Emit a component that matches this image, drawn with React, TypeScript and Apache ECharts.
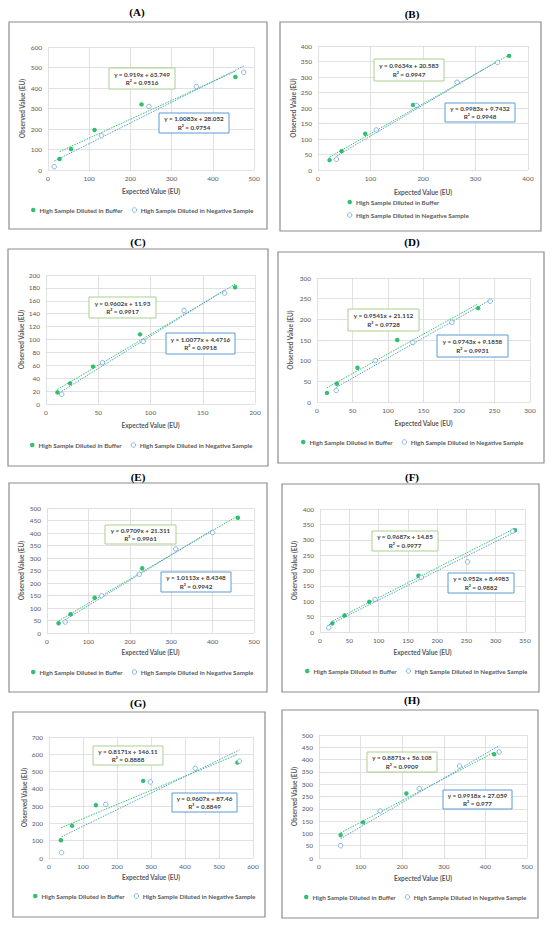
import React, { useEffect, useRef } from "react";
import * as echarts from "echarts";

const BUFFER_NAME = "High Sample Diluted in Buffer";
const NEGATIVE_NAME = "High Sample Diluted in Negative Sample";
const X_TITLE = "Expected Value (EU)";
const Y_TITLE = "Observed Value (EU)";
const panelLabels = ["(A)", "(B)", "(C)", "(D)", "(E)", "(F)", "(G)", "(H)"];

// ---- Panel A ----
const bufferA = [[28, 54], [56, 102], [113, 195], [227, 320], [455, 454]];
const negativeA = [[15, 16], [130, 167], [245, 310], [360, 407], [475, 477]];
const xTicksA = [0, 500, 100];
const yTicksA = [0, 600, 100];
const fitBufferA = [0.919, 63.749];
const fitNegativeA = [1.0083, 28.052];
const eqBufferA = ["y = 0.919x + 63.749", "R² = 0.9516"];
const eqNegativeA = ["y = 1.0083x + 28.052", "R² = 0.9754"];

// ---- Panel B ----
const bufferB = [[22, 32], [45, 61], [90, 117], [181, 210], [364, 368]];
const negativeB = [[35, 35], [111, 129], [188, 208], [265, 283], [342, 347]];
const xTicksB = [0, 400, 100];
const yTicksB = [0, 400, 50];
const fitBufferB = [0.9634, 20.583];
const fitNegativeB = [0.9983, 9.7432];
const eqBufferB = ["y = 0.9634x + 20.583", "R² = 0.9947"];
const eqNegativeB = ["y = 0.9983x + 9.7432", "R² = 0.9948"];

// ---- Panel C ----
const bufferC = [[11, 18], [23, 32], [45, 58], [90, 108], [181, 181]];
const negativeC = [[15, 15], [54, 64], [93, 97], [132, 145], [171, 172]];
const xTicksC = [0, 200, 50];
const yTicksC = [0, 200, 20];
const fitBufferC = [0.9602, 11.93];
const fitNegativeC = [1.0077, 4.4716];
const eqBufferC = ["y = 0.9602x + 11.93", "R² = 0.9917"];
const eqNegativeC = ["y = 1.0077x + 4.4716", "R² = 0.9918"];

// ---- Panel D ----
const bufferD = [[14, 22], [28, 44], [57, 83], [113, 150], [227, 227]];
const negativeD = [[27, 28], [82, 100], [135, 144], [190, 193], [244, 244]];
const xTicksD = [0, 300, 50];
const yTicksD = [0, 300, 50];
const fitBufferD = [0.9541, 21.112];
const fitNegativeD = [0.9743, 9.1858];
const eqBufferD = ["y = 0.9541x + 21.112", "R² = 0.9728"];
const eqNegativeD = ["y = 0.9743x + 9.1858", "R² = 0.9931"];

// ---- Panel E ----
const bufferE = [[28, 39], [57, 75], [115, 141], [230, 259], [461, 461]];
const negativeE = [[44, 44], [132, 149], [223, 235], [311, 336], [400, 402]];
const xTicksE = [0, 500, 100];
const yTicksE = [0, 500, 50];
const fitBufferE = [0.9709, 21.311];
const fitNegativeE = [1.0113, 8.4348];
const eqBufferE = ["y = 0.9709x + 21.311", "R² = 0.9961"];
const eqNegativeE = ["y = 1.0113x + 8.4348", "R² = 0.9942"];

// ---- Panel F ----
const bufferF = [[21, 28], [42, 54], [84, 98], [168, 183], [333, 331]];
const negativeF = [[15, 14], [94, 106], [173, 178], [252, 228], [329, 328]];
const xTicksF = [0, 350, 50];
const yTicksF = [0, 400, 50];
const fitBufferF = [0.9687, 14.85];
const fitNegativeF = [0.952, 8.4983];
const eqBufferF = ["y = 0.9687x + 14.85", "R² = 0.9977"];
const eqNegativeF = ["y = 0.952x + 8.4983", "R² = 0.9882"];

// ---- Panel G ----
const bufferG = [[35, 103], [68, 186], [138, 306], [277, 446], [554, 552]];
const negativeG = [[37, 31], [167, 310], [298, 440], [430, 519], [560, 560]];
const xTicksG = [0, 600, 100];
const yTicksG = [0, 700, 100];
const fitBufferG = [0.8171, 146.11];
const fitNegativeG = [0.9607, 87.46];
const eqBufferG = ["y = 0.8171x + 146.11", "R² = 0.8888"];
const eqNegativeG = ["y = 0.9607x + 87.46", "R² = 0.8849"];

// ---- Panel H ----
const bufferH = [[52, 93], [106, 145], [210, 262], [421, 422]];
const negativeH = [[52, 50], [147, 191], [241, 282], [338, 374], [433, 431]];
const xTicksH = [0, 500, 100];
const yTicksH = [0, 500, 50];
const fitBufferH = [0.8871, 56.108];
const fitNegativeH = [0.9918, 27.059];
const eqBufferH = ["y = 0.8871x + 56.108", "R² = 0.9909"];
const eqNegativeH = ["y = 0.9918x + 27.059", "R² = 0.977"];

const panelData = [
  { buffer: bufferA, negative: negativeA, xTicks: xTicksA, yTicks: yTicksA, fitB: fitBufferA, fitN: fitNegativeA, eqB: eqBufferA, eqN: eqNegativeA },
  { buffer: bufferB, negative: negativeB, xTicks: xTicksB, yTicks: yTicksB, fitB: fitBufferB, fitN: fitNegativeB, eqB: eqBufferB, eqN: eqNegativeB },
  { buffer: bufferC, negative: negativeC, xTicks: xTicksC, yTicks: yTicksC, fitB: fitBufferC, fitN: fitNegativeC, eqB: eqBufferC, eqN: eqNegativeC },
  { buffer: bufferD, negative: negativeD, xTicks: xTicksD, yTicks: yTicksD, fitB: fitBufferD, fitN: fitNegativeD, eqB: eqBufferD, eqN: eqNegativeD },
  { buffer: bufferE, negative: negativeE, xTicks: xTicksE, yTicks: yTicksE, fitB: fitBufferE, fitN: fitNegativeE, eqB: eqBufferE, eqN: eqNegativeE },
  { buffer: bufferF, negative: negativeF, xTicks: xTicksF, yTicks: yTicksF, fitB: fitBufferF, fitN: fitNegativeF, eqB: eqBufferF, eqN: eqNegativeF },
  { buffer: bufferG, negative: negativeG, xTicks: xTicksG, yTicks: yTicksG, fitB: fitBufferG, fitN: fitNegativeG, eqB: eqBufferG, eqN: eqNegativeG },
  { buffer: bufferH, negative: negativeH, xTicks: xTicksH, yTicks: yTicksH, fitB: fitBufferH, fitN: fitNegativeH, eqB: eqBufferH, eqN: eqNegativeH },
];

// Layout (pixels) – kept apart from the data
const layouts = [
  { title: [137, 12], box: [9, 22, 258, 207], grid: [48, 47, 206, 123], xGap: 18, yGap: 22, legend: { left: 31, top: 207, orient: "horizontal" }, eqB: [109, 68, 66, 21], eqN: [159, 113, 70, 20] },
  { title: [412, 14], box: [280, 22, 261, 209], grid: [318, 46, 210, 124], xGap: 19, yGap: 21, legend: { left: 347, top: 199, orient: "vertical" }, eqB: [374, 59, 70, 22], eqN: [445, 103, 70, 19] },
  { title: [138, 242], box: [8, 249, 260, 217], grid: [46, 275, 209, 129], xGap: 18, yGap: 21, legend: { left: 30, top: 442, orient: "horizontal" }, eqB: [89, 297, 67, 21], eqN: [166, 333, 69, 21] },
  { title: [412, 242], box: [278, 252, 266, 211], grid: [317, 278, 213, 124], xGap: 18, yGap: 23, legend: { left: 301, top: 439, orient: "horizontal" }, eqB: [348, 309, 71, 22], eqN: [437, 335, 71, 22] },
  { title: [138, 477], box: [9, 483, 258, 209], grid: [47, 508, 207, 125], xGap: 16, yGap: 22, legend: { left: 31, top: 669, orient: "horizontal" }, eqB: [105, 525, 71, 19], eqN: [161, 572, 70, 20] },
  { title: [412, 477], box: [282, 484, 257, 208], grid: [320, 509, 205, 123], xGap: 17, yGap: 22, legend: { left: 305, top: 668, orient: "horizontal" }, eqB: [372, 531, 66, 20], eqN: [448, 573, 66, 20] },
  { title: [138, 703], box: [13, 712, 252, 205], grid: [49, 737, 204, 121], xGap: 16, yGap: 21, legend: { left: 33, top: 893, orient: "horizontal" }, eqB: [93, 746, 70, 19], eqN: [172, 793, 65, 19] },
  { title: [412, 700], box: [282, 710, 256, 208], grid: [319, 735, 208, 123], xGap: 17, yGap: 21, legend: { left: 304, top: 894, orient: "horizontal" }, eqB: [367, 752, 70, 20], eqN: [443, 790, 69, 19] },
];

const FONT = "Lato, 'Open Sans', sans-serif";
const TEXT_GRAY = "#595959";
const GREEN = "#00B050";
const GREEN_LINE = "#2FC46A";
const BLUE = "#5B9BD5";
const GREEN_BOX = "#A9D18E";

function trend(points: number[][], fit: number[]) {
  const xs = points.map((p) => p[0]);
  const x0 = Math.min(...xs);
  const x1 = Math.max(...xs);
  return [
    [x0, fit[0] * x0 + fit[1]],
    [x1, fit[0] * x1 + fit[1]],
  ];
}

function eqGraphic(rect: number[], lines: string[], stroke: string) {
  return {
    type: "group",
    children: [
      {
        type: "rect",
        shape: { x: rect[0], y: rect[1], width: rect[2], height: rect[3] },
        style: { fill: "#ffffff", stroke, lineWidth: 1 },
        z: 10,
      },
      {
        type: "text",
        x: rect[0] + rect[2] / 2,
        y: rect[1] + rect[3] / 2,
        style: {
          text: lines.join("\n"),
          align: "center",
          verticalAlign: "middle",
          fontSize: 6.3,
          fontWeight: "bold",
          fontFamily: FONT,
          fill: "#404040",
          lineHeight: 8.5,
        },
        z: 11,
      },
    ],
  };
}

function buildOption() {
  const grid: any[] = [];
  const xAxis: any[] = [];
  const yAxis: any[] = [];
  const series: any[] = [];
  const legend: any[] = [];
  const graphic: any[] = [];

  panelData.forEach((p, i) => {
    const L = layouts[i];
    grid.push({ left: L.grid[0], top: L.grid[1], width: L.grid[2], height: L.grid[3], containLabel: false });
    const labelStyle = { fontSize: 6.5, color: TEXT_GRAY, fontFamily: FONT };
    const nameStyle = { fontSize: 6.5, color: TEXT_GRAY, fontFamily: FONT, fontWeight: "bold" };
    xAxis.push({
      gridIndex: i,
      type: "value",
      min: p.xTicks[0],
      max: p.xTicks[1],
      interval: p.xTicks[2],
      axisLine: { show: false },
      axisTick: { show: false },
      splitLine: { show: true, lineStyle: { color: "#D9D9D9", width: 0.8 } },
      axisLabel: { ...labelStyle, margin: 5 },
      name: X_TITLE,
      nameLocation: "middle",
      nameGap: L.xGap,
      nameTextStyle: nameStyle,
    });
    yAxis.push({
      gridIndex: i,
      type: "value",
      min: p.yTicks[0],
      max: p.yTicks[1],
      interval: p.yTicks[2],
      axisLine: { show: false },
      axisTick: { show: false },
      splitLine: { show: true, lineStyle: { color: "#D9D9D9", width: 0.8 } },
      axisLabel: { ...labelStyle, margin: 6 },
      name: Y_TITLE,
      nameLocation: "middle",
      nameGap: L.yGap,
      nameTextStyle: nameStyle,
    });
    series.push({
      name: "Linear (" + BUFFER_NAME + ") " + panelLabels[i],
      type: "line",
      xAxisIndex: i,
      yAxisIndex: i,
      data: trend(p.buffer, p.fitB),
      symbol: "none",
      lineStyle: { color: GREEN_LINE, width: 1, type: [1.5, 1.2] },
      z: 2,
      silent: true,
    });
    series.push({
      name: "Linear (" + NEGATIVE_NAME + ") " + panelLabels[i],
      type: "line",
      xAxisIndex: i,
      yAxisIndex: i,
      data: trend(p.negative, p.fitN),
      symbol: "none",
      lineStyle: { color: BLUE, width: 1, type: [1.5, 1.2] },
      z: 2,
      silent: true,
    });
    series.push({
      name: BUFFER_NAME,
      type: "scatter",
      xAxisIndex: i,
      yAxisIndex: i,
      data: p.buffer,
      symbol: "circle",
      symbolSize: 4.5,
      itemStyle: { color: GREEN },
      z: 4,
    });
    series.push({
      name: NEGATIVE_NAME,
      type: "scatter",
      xAxisIndex: i,
      yAxisIndex: i,
      data: p.negative,
      symbol: "circle",
      symbolSize: 4.5,
      itemStyle: { color: "#ffffff", borderColor: BLUE, borderWidth: 0.9 },
      z: 4,
    });
    legend.push({
      left: L.legend.left,
      top: L.legend.top,
      orient: L.legend.orient,
      itemWidth: 4.5,
      itemHeight: 4.5,
      itemGap: L.legend.orient === "vertical" ? 7 : 9,
      padding: 0,
      selectedMode: false,
      textStyle: { fontSize: 6.3, color: TEXT_GRAY, fontFamily: FONT, fontWeight: "bold", padding: [0, 0, 0, -1] },
      data: [
        { name: BUFFER_NAME, icon: "circle", itemStyle: { color: GREEN, borderWidth: 0 } },
        { name: NEGATIVE_NAME, icon: "circle", itemStyle: { color: "#ffffff", borderColor: BLUE, borderWidth: 0.9 } },
      ],
    });

    graphic.push({
      type: "rect",
      shape: { x: L.box[0], y: L.box[1], width: L.box[2], height: L.box[3] },
      style: { fill: "none", stroke: "#8C8C8C", lineWidth: 1.2 },
      z: 0,
      silent: true,
    });
    graphic.push({
      type: "text",
      x: L.title[0],
      y: L.title[1],
      style: {
        text: panelLabels[i],
        align: "center",
        verticalAlign: "middle",
        fontSize: 11,
        fontWeight: "bold",
        fontFamily: "'Liberation Serif', 'DejaVu Serif', serif",
        fill: "#000000",
      },
    });
    graphic.push(eqGraphic(L.eqB, p.eqB, GREEN_BOX));
    graphic.push(eqGraphic(L.eqN, p.eqN, BLUE));
  });

  return {
    animation: false,
    backgroundColor: "#ffffff",
    textStyle: { fontFamily: FONT },
    grid,
    xAxis,
    yAxis,
    series,
    legend,
    graphic,
  };
}

export default function App() {
  const ref = useRef<HTMLDivElement>(null);
  useEffect(() => {
    if (!ref.current) return;
    const chart = echarts.init(ref.current, undefined, { renderer: "svg" });
    chart.setOption(buildOption() as any);
    return () => chart.dispose();
  }, []);
  return (
    <div
      ref={ref}
      style={{ position: "absolute", left: 0, top: 0, width: 550, height: 925, background: "#fff" }}
    />
  );
}
